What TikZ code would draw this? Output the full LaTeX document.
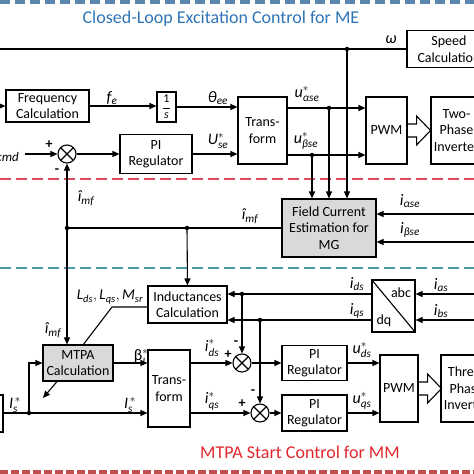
\documentclass[tikz,border=0pt]{standalone}
\usepackage{amsmath}
\usepackage{fontspec}
\setmainfont{Carlito}
\usetikzlibrary{arrows.meta,calc}
\definecolor{ttlblue}{HTML}{2E75B6}
\definecolor{ttlred}{HTML}{E0282E}
\definecolor{dashblue}{HTML}{5B87AE}
\definecolor{dashred}{HTML}{E04A5E}
\definecolor{dashteal}{HTML}{4D9AA6}
\definecolor{dashbrown}{HTML}{C0504D}
\definecolor{boxgray}{HTML}{D9D9D9}
\begin{document}
\begin{tikzpicture}[x=1pt,y=-1pt,
  box/.style={draw, line width=1.1pt, inner sep=1pt, align=center, font=\fontsize{14}{16.5}\selectfont},
  gbox/.style={box, fill=boxgray},
  ln/.style={line width=1.1pt},
  arr/.style={ln, -{Triangle[length=7pt,width=6pt]}},
  sumj/.style={circle, draw, line width=1.1pt, minimum size=18pt, inner sep=0pt,
    path picture={\draw[line width=1.1pt] (path picture bounding box.north west) -- (path picture bounding box.south east)
      (path picture bounding box.south west) -- (path picture bounding box.north east);}},
  lab/.style={font=\fontsize{16}{18}\selectfont, inner sep=0pt},
  sgn/.style={font=\fontsize{14}{16}\selectfont\bfseries, inner sep=0pt},
  dot/.style={circle, fill, inner sep=0pt, minimum size=4.5pt},
  fat/.style={line width=1.1pt, line join=miter}
]
\useasboundingbox (0,0) rectangle (474,474);

% dashed separators
\draw[dashblue, line width=4pt, dash pattern=on 10pt off 5pt] (0,2) -- (474,2);
\draw[dashred, line width=1.5pt, dash pattern=on 11pt off 5pt] (0,179) -- (474,179);
\draw[dashteal, line width=1.5pt, dash pattern=on 11pt off 5pt] (0,268) -- (474,268);
\draw[dashbrown, line width=4pt, dash pattern=on 8pt off 3pt] (0,472) -- (474,472);

% titles
\node[font=\fontsize{18}{20}\selectfont, text=ttlblue] (t1) at (221,19) {Closed-Loop Excitation Control for ME};
\node[font=\fontsize{18}{20}\selectfont, text=ttlred] (t2) at (300,452) {MTPA Start Control for MM};

% ---------- upper section ----------
\node[box, minimum width=84pt, minimum height=37pt] (speed) at (449,49) {Speed\\Calculation};
\node[box, minimum width=83pt, minimum height=32pt] (freq) at (47.5,106) {Frequency\\Calculation};
\node[box, minimum width=19pt, minimum height=30pt, inner sep=0pt] (ints) at (166.5,107) {\fontsize{12}{13}\selectfont$\dfrac{\text{1}}{\textit{s}}$};
\node[box, minimum width=49pt, minimum height=67pt] (trans1) at (262.5,130.5) {Trans-\\form};
\node[box, minimum width=72pt, minimum height=39pt] (pi1) at (156,154) {PI\\Regulator};
\node[box, minimum width=41pt, minimum height=67pt] (pwm1) at (386.5,130.5) {PWM};
\node[box, minimum width=51pt, minimum height=67pt] (inv2) at (456.5,130.5) {Two-\\Phase\\Inverter};
\node[gbox, minimum width=94pt, minimum height=58pt] (fce) at (329,228) {Field Current\\Estimation for\\MG};
\node[sumj] (sum1) at (67,154) {};

\coordinate (wl) at (0,49);
\coordinate (dw) at (347,49);
\coordinate (fin) at (0,106);
\coordinate (cin) at (25,154);
\coordinate (ua) at (329,108);
\coordinate (ub) at (312,155);
\coordinate (d1) at (67,228);
\coordinate (d2) at (187,228);
\coordinate (iain) at (474,214);
\coordinate (ibin) at (474,242);

\draw[ln] (speed.west) -- (wl);
\node[dot] at (dw) {};
\draw[arr] (dw) -- (dw |- fce.north);
\draw[arr] (fin) -- (freq.west);
\draw[arr] (freq.east) -- (freq.east -| ints.west);
\draw[arr] (ints.east) -- (ints.east -| trans1.west);
\draw[arr] (cin) -- (sum1);
\draw[arr] (sum1) -- (pi1.west);
\draw[arr] (pi1.east) -- (pi1.east -| trans1.west);
\draw[arr] (trans1.east |- ua) -- (ua -| pwm1.west);
\draw[arr] (trans1.east |- ub) -- (ub -| pwm1.west);
\node[dot] at (ua) {};
\node[dot] at (ub) {};
\draw[arr] (ua) -- (ua |- fce.north);
\draw[arr] (ub) -- (ub |- fce.north);
\draw[fat] ([yshift=6.5pt]pwm1.east) -- ++(9,0) -- ++(0,-8) -- ++(14,14.5) -- ++(-14,14.5) -- ++(0,-8) -- ++(-9,0);
\draw[ln] (fce.west |- d1) -- (d1);
\node[dot] at (d1) {};
\node[dot] at (d2) {};
\draw[arr] (d1) -- (sum1);
\draw[arr] (iain) -- (iain -| fce.east);
\draw[arr] (ibin) -- (ibin -| fce.east);

% labels upper
\node[lab] (lw) at (391,40) {$\textit{ω}$};
\node[lab] (lfe) at (112,98) {$\textit{f}_{\textit{e}}$};
\node[lab] (lth) at (218,98) {$\textit{θ}_{\textit{ee}}$};
\node[lab] (lus) at (218,141) {$\textit{U}^{*}_{\textit{se}}$};
\node[lab] (lua) at (307,94) {$\textit{u}^{*}_{\textit{αse}}$};
\node[lab] (lub) at (306,141) {$\textit{u}^{*}_{\textit{βse}}$};
\node[font=\fontsize{13}{15}\selectfont\itshape, inner sep=0pt, anchor=east] (lcmd) at (19,157) {cmd};
\node[sgn] (s1p) at (49,145) {+};
\node[sgn] (s1m) at (57,171) {-};
\node[lab] (li1) at (86,198) {$\textit{î}_{\textit{mf}}$};
\node[lab] (li2) at (250,216) {$\textit{î}_{\textit{mf}}$};
\node[lab] (lia) at (410,201) {$\textit{i}_{\textit{αse}}$};
\node[lab] (lib) at (410,230) {$\textit{i}_{\textit{βse}}$};

% ---------- lower section ----------
\node[box, minimum width=79pt, minimum height=37pt] (ind) at (187.5,304.5) {Inductances\\Calculation};
\node[gbox, minimum width=70pt, minimum height=36pt] (mtpa) at (78,363) {MTPA\\Calculation};
\node[box, minimum width=42pt, minimum height=77pt] (trans2) at (169,388.5) {Trans-\\form};
\node[box, minimum width=43pt, minimum height=52pt] (abcdq) at (393.5,306) {};
\node[box, minimum width=65pt, minimum height=35pt] (pi2) at (314.5,363) {PI\\Regulator};
\node[box, minimum width=65pt, minimum height=36pt] (pi3) at (314.5,413) {PI\\Regulator};
\node[box, minimum width=38pt, minimum height=67pt] (pwm2) at (399,388.5) {PWM};
\node[box, minimum width=51pt, minimum height=67pt] (inv3) at (466.5,388.5) {Three-\\Phase\\Inverter};
\node[box, minimum width=30pt, minimum height=37pt] (isbox) at (-12,413.5) {};
\node[sumj] (sum2) at (242,363) {};
\node[sumj] (sum3) at (260,413) {};

\draw[ln] (abcdq.north west) -- (abcdq.south east);
\node[font=\fontsize{14}{16}\selectfont, inner sep=0pt] (tabc) at (401,293) {abc};
\node[font=\fontsize{14}{16}\selectfont, inner sep=0pt] (tdq) at (384,321) {dq};

\coordinate (dds) at (242,294);
\coordinate (dqs) at (260,320);
\coordinate (iasin) at (474,294);
\coordinate (ibsin) at (474,320);
\coordinate (dIs) at (29,413);
\coordinate (kL) at (112,307);
\coordinate (kM) at (83,345);
\coordinate (ko) at (43,398);

\draw[arr] (d2) -- (ind.north);
\draw[arr] (d1) -- (d1 |- mtpa.north);
\draw[arr] (iasin) -- (iasin -| abcdq.east);
\draw[arr] (ibsin) -- (ibsin -| abcdq.east);
\draw[ln] (abcdq.west |- dds) -- (dds);
\draw[ln] (abcdq.west |- dqs) -- (dqs);
\draw[arr] (dds) -- (dds -| ind.east);
\draw[arr] (dqs) -- (dqs -| ind.east);
\node[dot] at (dds) {};
\node[dot] at (dqs) {};
\draw[arr] (dds) -- (sum2);
\draw[arr] (dqs) -- (sum3);
\draw[ln] (ind.west |- kL) -- (kL) -- (kM);
\draw[arr] ([xshift=-21pt]mtpa.south) -- (ko);
\draw[arr] (mtpa.east) -- (mtpa.east -| trans2.west);
\draw[arr] (isbox.east |- dIs) -- (dIs -| trans2.west);
\node[dot] at (dIs) {};
\draw[arr] (dIs) |- (mtpa.west);
\draw[arr] (trans2.east |- sum2) -- (sum2);
\draw[arr] (trans2.east |- sum3) -- (sum3);
\draw[arr] (sum2) -- (pi2.west);
\draw[arr] (sum3) -- (pi3.west);
\draw[arr] (pi2.east) -- (pi2.east -| pwm2.west);
\draw[arr] (pi3.east) -- (pi3.east -| pwm2.west);
\draw[fat] ([yshift=6.5pt]pwm2.east) -- ++(9,0) -- ++(0,-8) -- ++(14,14.5) -- ++(-14,14.5) -- ++(0,-8) -- ++(-9,0);

% labels lower
\node[lab] (li3) at (53,330) {$\textit{î}_{\textit{mf}}$};
\node[font=\fontsize{15}{17}\selectfont, inner sep=0pt] (lL) at (110,297) {$\textit{L}_{\textit{ds}},\textit{L}_{\textit{qs}},\textit{M}_{\textit{sr}}$};
\node[lab] (lbeta) at (141,357) {$\text{β}^{*}_{\textit{I}}$};
\node[lab] (lIs1) at (15,405) {$\textit{I}_{\textit{s}}^{\,*}$};
\node[lab] (lIs2) at (130,405) {$\textit{I}_{\textit{s}}^{\,*}$};
\node[lab] (lids2) at (212,348) {$\textit{i}^{*}_{\textit{ds}}$};
\node[lab] (liqs2) at (212,401) {$\textit{i}^{*}_{\textit{qs}}$};
\node[lab] (lids) at (357,284) {$\textit{i}_{\textit{ds}}$};
\node[lab] (liqs) at (357,311) {$\textit{i}_{\textit{qs}}$};
\node[lab] (lias) at (441,285) {$\textit{i}_{\textit{as}}$};
\node[lab] (libs) at (441,311) {$\textit{i}_{\textit{bs}}$};
\node[lab] (luds) at (362,350) {$\textit{u}^{*}_{\textit{ds}}$};
\node[lab] (luqs) at (362,401) {$\textit{u}^{*}_{\textit{qs}}$};
\node[sgn] (s2p) at (228,355) {+};
\node[sgn] (s2m) at (236,343) {-};
\node[sgn] (s3p) at (242,404) {+};
\node[sgn] (s3m) at (253,392) {-};
\end{tikzpicture}
\end{document}
